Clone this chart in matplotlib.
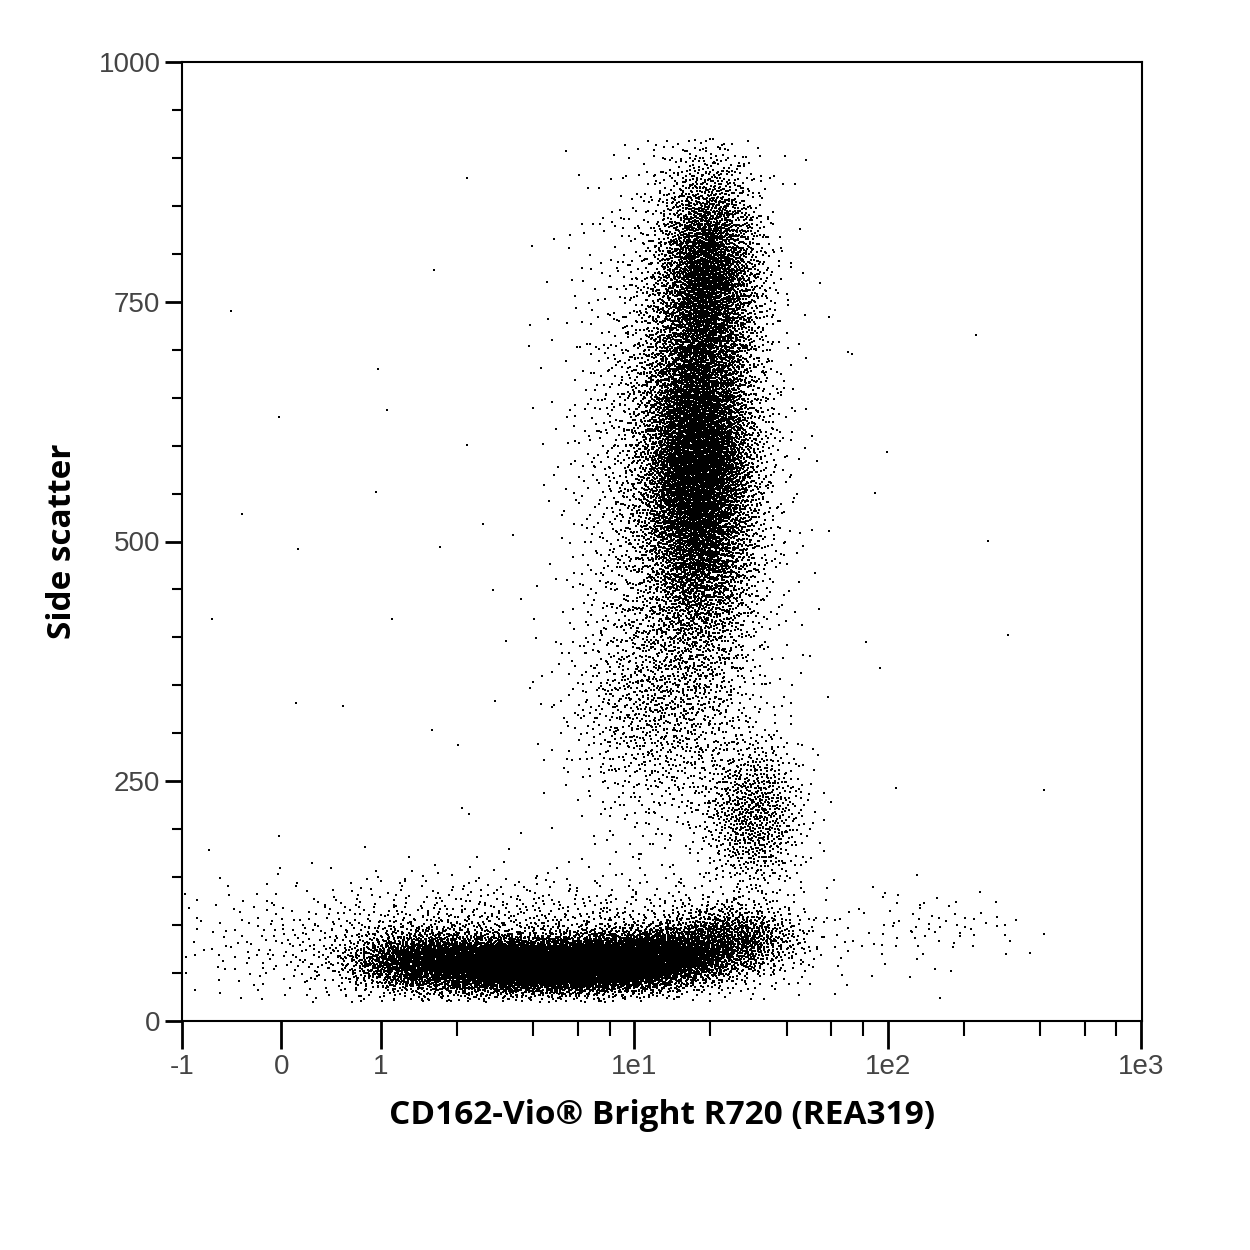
import numpy as np
import matplotlib.pyplot as plt

# Axis positions: linear between -1 and 1, then ~2.55 units per decade
x_tick_values = [-1, 0, 1, 10, 100, 1000]
x_tick_labels = ["-1", "0", "1", "1e1", "1e2", "1e3"]
y_ticks = [0, 250, 500, 750, 1000]

# Populations (x in display units, y in SSC)
pop_name = ["top_core", "top_upper", "top_halo", "bridge", "gran_small",
            "band1", "band2", "band3", "band4", "band_right", "band_spread",
            "far_right", "noise"]
pop_x = [4.2, 4.3, 4.0, 3.8, 4.75, 1.5, 2.3, 3.0, 3.7, 4.5, 2.3, 6.6, 3.0]
pop_y = [580, 780, 560, 330, 215, 62, 58, 58, 65, 85, 80, 100, 450]
pop_sx = [0.28, 0.25, 0.5, 0.45, 0.25, 0.4, 0.4, 0.4, 0.4, 0.35, 1.5, 0.45, 2.5]
pop_sy = [90, 55, 170, 60, 40, 16, 13, 13, 15, 18, 35, 18, 250]
pop_n = [9000, 3500, 3000, 900, 900, 2200, 4500, 5000, 3500, 1200, 1800, 60, 70]


def to_u(v):
    v = np.asarray(v, dtype=float)
    return np.where(v <= 1, v, 1 + 2.55 * np.log10(np.maximum(v, 1)))


def halton(n, base, skip):
    out = np.empty(n)
    for k in range(n):
        i = k + 1 + skip
        f, r = 1.0, 0.0
        while i > 0:
            f /= base
            r += f * (i % base)
            i //= base
        out[k] = r
    return out


def gaussian_cloud(cx, cy, sx, sy, n, skip):
    # deterministic low-discrepancy points pushed through Box-Muller
    u1 = np.clip(halton(n, 2, skip), 1e-6, 1)
    u2 = halton(n, 3, skip)
    r = np.sqrt(-2 * np.log(u1))
    return cx + sx * r * np.cos(2 * np.pi * u2), cy + sy * r * np.sin(2 * np.pi * u2)


fig = plt.figure(figsize=(12.5, 12.5), dpi=100)
ax = fig.add_axes([182 / 1250, 1 - 1021 / 1250, 960 / 1250, 959 / 1250])

skip = 0
for name, cx, cy, sx, sy, n in zip(pop_name, pop_x, pop_y, pop_sx, pop_sy, pop_n):
    xs, ys = gaussian_cloud(cx, cy, sx, sy, n, skip)
    skip += n
    keep = (xs > -1) & (xs < 8.65) & (ys > 20) & (ys < 920)
    ax.scatter(xs[keep], ys[keep], s=2.2, marker="s", c="black", linewidths=0)

x_min, x_max = -1, float(to_u(1000))
ax.set_xlim(x_min, x_max + 0.01)
ax.set_ylim(0, 1000)

ax.set_xticks(to_u(x_tick_values))
ax.set_xticklabels(x_tick_labels)
minor_vals = [m * d for d in (1, 10, 100) for m in (2, 4, 6, 8)]
ax.set_xticks(to_u(minor_vals), minor=True)
ax.set_yticks(y_ticks)
ax.set_yticks(np.arange(0, 1001, 50), minor=True)

for sp in ax.spines.values():
    sp.set_linewidth(1.5)
ax.tick_params(which="major", direction="out", length=20, width=2,
               labelsize=20, colors="black", labelcolor="#444444")
ax.tick_params(which="minor", direction="out", length=11, width=1.5)
ax.tick_params(axis="y", which="major", length=12)
ax.tick_params(axis="y", which="minor", length=7)
for lbl in ax.get_xticklabels() + ax.get_yticklabels():
    lbl.set_family("Liberation Sans")

ax.set_xlabel("CD162-Vio® Bright R720 (REA319)", fontsize=24, fontweight="bold",
              family="Open Sans", labelpad=14)
ax.set_ylabel("Side scatter", fontsize=24, fontweight="bold",
              family="Open Sans", labelpad=14)

fig.savefig("out.png", dpi=100, facecolor="white")
